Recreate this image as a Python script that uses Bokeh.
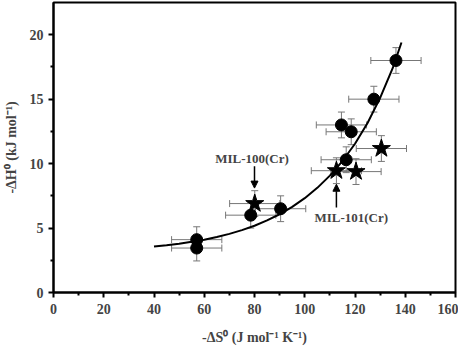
from bokeh.plotting import figure
from bokeh.models import Whisker, TeeHead, Arrow, NormalHead, Label, ColumnDataSource, FixedTicker
from bokeh.embed import file_html
from bokeh.resources import INLINE

# data
circ_x = [57, 57, 78.5, 90.4, 114.6, 118.5, 116.5, 127.5, 136.3]
circ_y = [4.1, 3.45, 6.0, 6.5, 13.0, 12.47, 10.3, 15.0, 18.0]
star_x = [80.1, 112.6, 120.4, 130.5]
star_y = [6.9, 9.45, 9.38, 11.17]
err_x = 10.0
err_y = 1.0

fit_x = [40, 45, 50, 55, 60, 65, 70, 75, 80, 85, 90, 95, 100, 105, 110, 115,
         120, 125, 130, 135, 138.5]
fit_y = [3.56, 3.66, 3.78, 3.93, 4.10, 4.31, 4.55, 4.84, 5.18, 5.59, 6.07, 6.64,
         7.32, 8.12, 9.07, 10.2, 11.54, 13.15, 15.1, 17.4, 19.4]

x_ticks = [0, 20, 40, 60, 80, 100, 120, 140, 160]
y_ticks = [0, 5, 10, 15, 20]

FONT = "Liberation Serif"

p = figure(width=458, height=347, x_range=(0, 160), y_range=(0, 22.5),
           output_backend="svg", toolbar_location=None,
           min_border_left=44, min_border_right=3, min_border_top=2, min_border_bottom=46)
p.grid.visible = False
p.outline_line_color = "black"
p.outline_line_width = 2
p.background_fill_color = "white"

for ax in (p.xaxis[0], p.yaxis[0]):
    ax.axis_line_width = 2
    ax.major_tick_line_width = 2
    ax.minor_tick_line_width = 2
    ax.major_tick_out = 5
    ax.major_tick_in = 0
    ax.minor_tick_out = 3
    ax.minor_tick_in = 0
    ax.major_label_text_font = FONT
    ax.major_label_text_font_style = "bold"
    ax.major_label_text_font_size = "14px"
    ax.axis_label_text_font = FONT
    ax.axis_label_text_font_style = "bold"
    ax.axis_label_text_font_size = "14px"

p.xaxis.ticker = FixedTicker(ticks=x_ticks, minor_ticks=[10, 30, 50, 70, 90, 110, 130, 150])
p.yaxis.ticker = FixedTicker(ticks=y_ticks, minor_ticks=[2.5, 7.5, 12.5, 17.5])
p.xaxis.axis_label = "-ΔS⁰ (J mol⁻¹ K⁻¹)"
p.yaxis.axis_label = "-ΔH⁰ (kJ mol⁻¹)"
p.xaxis.axis_label_standoff = 13
p.xaxis.major_label_standoff = 6
p.yaxis.axis_label_standoff = 8

all_x = circ_x + star_x
all_y = circ_y + star_y
src = ColumnDataSource(data=dict(
    x=all_x, y=all_y,
    xl=[v - err_x for v in all_x], xu=[v + err_x for v in all_x],
    yl=[v - err_y for v in all_y], yu=[v + err_y for v in all_y]))

grey = "#777777"
wx = Whisker(source=src, base="y", lower="xl", upper="xu", dimension="width",
             line_color=grey, line_width=1,
             lower_head=TeeHead(size=7, line_color=grey, line_width=1),
             upper_head=TeeHead(size=7, line_color=grey, line_width=1))
wy = Whisker(source=src, base="x", lower="yl", upper="yu", dimension="height",
             line_color=grey, line_width=1,
             lower_head=TeeHead(size=7, line_color=grey, line_width=1),
             upper_head=TeeHead(size=7, line_color=grey, line_width=1))
p.add_layout(wx)
p.add_layout(wy)

p.line(fit_x, fit_y, line_color="black", line_width=2)
p.scatter(circ_x, circ_y, marker="circle", size=12, fill_color="black", line_color="black")
p.scatter(star_x, star_y, marker="star", size=19, fill_color="black", line_color="black")

p.add_layout(Label(x=79, y=10.4, text="MIL-100(Cr)", text_font=FONT, text_font_style="bold",
                   text_font_size="13px", text_align="center", text_baseline="middle"))
p.add_layout(Arrow(x_start=80, y_start=9.8, x_end=80, y_end=8.1,
                   line_width=1.5, end=NormalHead(size=7, fill_color="black", line_color="black")))
p.add_layout(Label(x=118.5, y=5.85, text="MIL-101(Cr)", text_font=FONT, text_font_style="bold",
                   text_font_size="13px", text_align="center", text_baseline="middle"))
p.add_layout(Arrow(x_start=112.6, y_start=6.6, x_end=112.6, y_end=8.4,
                   line_width=1.5, end=NormalHead(size=7, fill_color="black", line_color="black")))

open("out.html", "w").write(file_html(p, INLINE))
